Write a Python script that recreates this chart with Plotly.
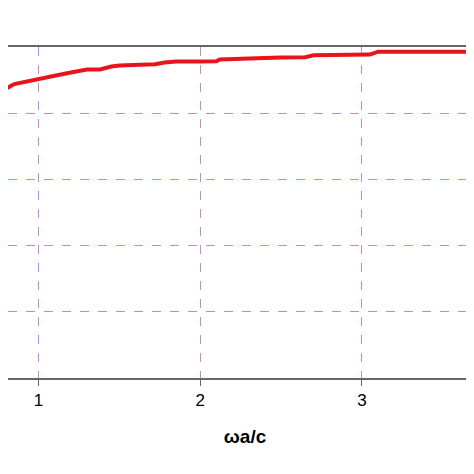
import plotly.graph_objects as go

x_vals = [0.78, 0.81, 0.85, 0.95, 1.0, 1.1, 1.2, 1.3, 1.38, 1.45, 1.5, 1.6, 1.72, 1.78, 1.85, 2.0, 2.1, 2.12, 2.3, 2.35, 2.5, 2.65, 2.7, 3.0, 3.05, 3.1, 3.5, 3.8]
y_vals = [0.872, 0.877, 0.888, 0.897, 0.902, 0.913, 0.923, 0.932, 0.932, 0.941, 0.944, 0.945, 0.948, 0.953, 0.956, 0.956, 0.957, 0.962, 0.963, 0.966, 0.968, 0.969, 0.975, 0.976, 0.977, 0.986, 0.986, 0.986]

fig = go.Figure(go.Scatter(x=x_vals, y=y_vals, mode="lines",
                           line=dict(color="#e8141c", width=4)))
grid = dict(showgrid=True, gridcolor="#d080e0", griddash="dash", gridwidth=1, zeroline=False, automargin=False)
fig.update_xaxes(range=[0.811, 3.743], tickvals=[1, 2, 3], ticks="outside", ticklen=6,
                 tickcolor="#666", showline=True, linecolor="#666", linewidth=2, mirror=True,
                 title=dict(text="<b>ω</b><b>a/c</b>", font=dict(size=19, color="black"), standoff=20),
                 tickfont=dict(size=17, color="black"), **grid)
fig.update_yaxes(range=[0, 1], dtick=0.2, showticklabels=False, showline=False, **grid)
fig.update_layout(width=474, height=474, margin=dict(l=0, r=0, t=39, b=104, pad=0),
                  plot_bgcolor="white", paper_bgcolor="white", showlegend=False,
                  font=dict(family="Liberation Sans"))
fig.write_html("out.html")
